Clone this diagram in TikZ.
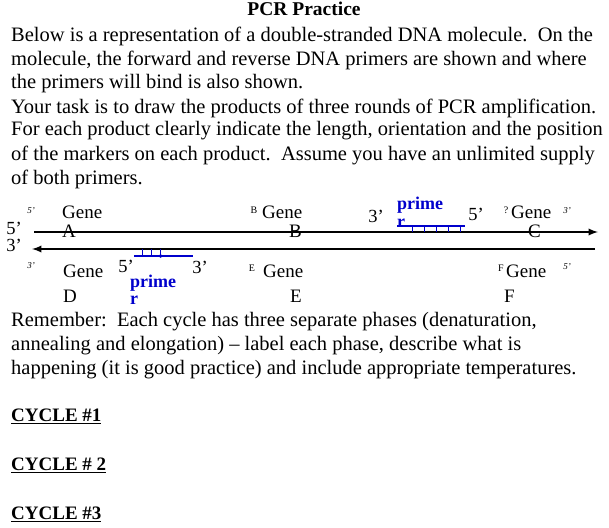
\documentclass[tikz,border=0pt]{standalone}
\usepackage{fontspec}
\setmainfont{Liberation Serif}
\begin{document}
\begin{tikzpicture}[x=1pt,y=-1pt,
 body/.style={anchor=west,font=\fontsize{20.5}{24}\selectfont,inner sep=0},
 bodyb/.style={anchor=west,font=\fontsize{19}{24}\selectfont,inner sep=0},
 sm/.style={anchor=center,font=\itshape\fontsize{9}{10}\selectfont,inner sep=0},
 lab/.style={anchor=center,font=\fontsize{18.5}{20}\selectfont,inner sep=0},
 pr/.style={anchor=west,font=\bfseries\fontsize{18}{18}\selectfont,text=blue!80!black,inner sep=0},
 strand/.style={line width=2.2pt,-latex}]
\useasboundingbox (0,0) rectangle (609,527);
\node[anchor=north,font=\bfseries\fontsize{19.5}{20}\selectfont,inner sep=0] (t) at (304,2) {PCR Practice};
\node[body] (l1) at (11,36) {Below is a representation of a double-stranded DNA molecule.\ \ On the};
\node[body] (l2) at (11,60) {molecule, the forward and reverse DNA primers are shown and where};
\node[body] (l3) at (11,84) {the primers will bind is also shown.};
\node[body] (l4) at (11,108) {Your task is to draw the products of three rounds of PCR amplification.};
\node[body] (l5) at (11,131) {For each product clearly indicate the length, orientation and the position};
\node[body] (l6) at (11,155) {of the markers on each product.\ \ Assume you have an unlimited supply};
\node[body] (l7) at (11,179) {of both primers.};
% strands
\coordinate (ts) at (34,232); \coordinate (te) at (598,232);
\coordinate (bs) at (595,249); \coordinate (be) at (32,249);
\draw[strand] (ts) -- (te);
\draw[strand] (bs) -- (be);
\node[sm] (a1) at (31,211) {5'};
\node[lab] (a2) at (14,228) {5'};
\node[lab] (a3) at (14,245) {3'};
\node[sm] (a4) at (31,266) {3'};
\node[sm] (a5) at (567,211) {3'};
\node[sm] (a6) at (567,267) {5'};
\node[bodyb] (gA) at (62,212) {Gene}; \node[bodyb] (A) at (62,231) {A};
\node[sm,font=\fontsize{10}{10}\selectfont] (sB) at (254,210) {B};
\node[bodyb] (gB) at (262,212) {Gene}; \node[bodyb] (B) at (289,231) {B};
\node[sm,font=\fontsize{10}{10}\selectfont] (sC) at (506,210) {?};
\node[bodyb] (gC) at (511,212) {Gene}; \node[bodyb] (C) at (528,231) {C};
\node[bodyb] (gD) at (63,271) {Gene}; \node[bodyb] (D) at (63,296) {D};
\node[sm,font=\fontsize{10}{10}\selectfont] (sE) at (252,268) {E};
\node[bodyb] (gE) at (263,271) {Gene}; \node[bodyb] (E) at (290,296) {E};
\node[sm,font=\fontsize{10}{10}\selectfont] (sF) at (501,268) {F};
\node[bodyb] (gF) at (506,271) {Gene}; \node[bodyb] (F) at (504,296) {F};
% top primer
\node[lab] (p3) at (376,216) {3'};
\node[lab] (p5) at (476,214) {5'};
\node[pr] (pt) at (397,205) {prime}; \node[pr] (ptr) at (397,223) {r};
\coordinate (q1) at (397,226); \coordinate (q2) at (465,226);
\draw[blue!80!black,line width=1.8pt] (q1) -- (q2);
\foreach \x in {412,424,436,448,460} \draw[blue!80!black,thin] (\x,226) -- (\x,232);
% bottom primer
\node[lab] (r5) at (126,266) {5'};
\node[lab] (r3) at (200,267) {3'};
\node[pr] (pb) at (130,283) {prime}; \node[pr] (pbr) at (130,300) {r};
\coordinate (s1) at (134,256); \coordinate (s2) at (193,256);
\draw[blue!80!black,line width=1.8pt] (s1) -- (s2);
\draw[blue!80!black,thick,-latex] (150,256) -- (165,256);
\foreach \x in {142,151,160} \draw[blue!80!black,thin] (\x,249) -- (\x,256);
\node[body] (m1) at (11,322) {Remember:\ \ Each cycle has three separate phases (denaturation,};
\node[body] (m2) at (11,346) {annealing and elongation) -- label each phase, describe what is};
\node[body] (m3) at (11,370) {happening (it is good practice) and include appropriate temperatures.};
\node[body,font=\bfseries\fontsize{19}{20}\selectfont] (c1) at (11,416) {\underline{CYCLE \#1}};
\node[body,font=\bfseries\fontsize{19}{20}\selectfont] (c2) at (11,465) {\underline{CYCLE \# 2}};
\node[body,font=\bfseries\fontsize{19}{20}\selectfont] (c3) at (11,514) {\underline{CYCLE \#3}};
\end{tikzpicture}
\end{document}
